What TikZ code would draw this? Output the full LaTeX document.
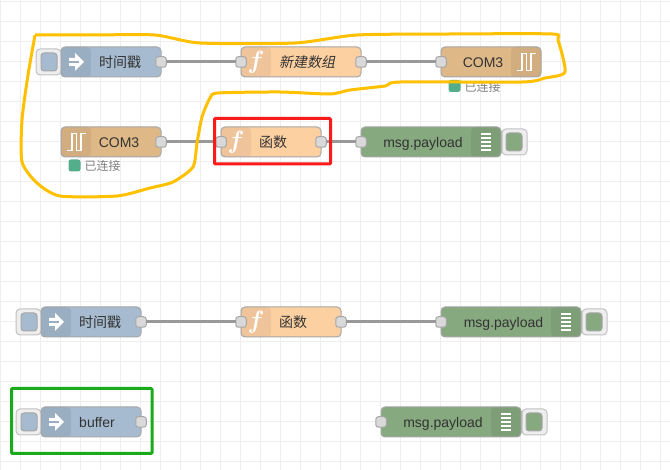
\documentclass[tikz,border=0pt]{standalone}
\usepackage{fontspec}
\setmainfont{Liberation Sans}
\newfontfamily\cjk{Noto Sans CJK SC}
\newfontfamily\cjkit[FakeSlant=0.2]{Noto Sans CJK SC}
\definecolor{gridline}{HTML}{EEEEEE}
\definecolor{edge}{HTML}{A6A6A6}
\definecolor{wire}{HTML}{999999}
\definecolor{portfill}{HTML}{D9D9D9}
\definecolor{inject}{HTML}{A6BBCF}
\definecolor{injecttab}{HTML}{9AAEC1}
\definecolor{func}{HTML}{FDD0A2}
\definecolor{functab}{HTML}{EFC49A}
\definecolor{serial}{HTML}{DEB887}
\definecolor{serialtab}{HTML}{D1AD80}
\definecolor{debug}{HTML}{87A980}
\definecolor{debugtab}{HTML}{7E9E78}
\definecolor{okdot}{HTML}{55AE8B}
\definecolor{scribble}{HTML}{FFC000}
\definecolor{redbox}{HTML}{FA1A1A}
\definecolor{greenbox}{HTML}{1AAB1A}
\tikzset{
  body/.style={draw=edge,line width=1pt,rounded corners=4pt,inner sep=0pt,outer sep=0pt,
    minimum height=30pt},
  tableft/.style={path picture={\fill[#1] (path picture bounding box.north west)
    rectangle ([xshift=30pt]path picture bounding box.south west);}},
  tabright/.style={path picture={\fill[#1] (path picture bounding box.north east)
    rectangle ([xshift=-30pt]path picture bounding box.south east);}},
  portbox/.style={draw=edge,fill=portfill,line width=1pt,rounded corners=2.5pt,inner sep=0pt,
    outer sep=0pt,minimum size=10.5pt},
  btnback/.style={draw=edge!70,fill=gridline,line width=1pt,rounded corners=4pt,inner sep=0pt,
    outer sep=0pt,minimum width=25pt,minimum height=26pt},
  btnface/.style={draw=edge,fill=#1,line width=1pt,rounded corners=3pt,inner sep=0pt,
    outer sep=0pt,minimum width=16pt,minimum height=18pt},
  lbl/.style={inner sep=0pt,text=black!80,text height=14pt,text depth=3pt,
    font=\fontsize{14}{14}\selectfont},
  statustext/.style={inner sep=0pt,text=black!50,font=\cjk\fontsize{12}{12}\selectfont},
  okmark/.style={fill=okdot,rounded corners=2.5pt,inner sep=0pt,minimum size=12pt},
  fmark/.style={inner sep=0pt,text=white,font=\fontsize{27}{27}\selectfont\boldmath},
  link/.style={draw=wire,line width=3pt},
  notebox/.style={line width=3pt,rounded corners=1pt},
  pics/arrowicon/.style={code={
    \fill[white] (-7,-4) -- (-1,-4) -- (-1,-9) -- (8,0) -- (-1,9) -- (-1,4) -- (-7,4) -- cycle;
    \draw[injecttab,line width=1.4pt] (-7,0) -- (3,0);}},
  pics/waveicon/.style={code={
    \draw[white,line width=1.8pt] (-9,8.5) -- (-4,8.5) -- (-4,-8.5) -- (0.5,-8.5) -- (0.5,8.5)
      -- (5,8.5) -- (5,-8.5) -- (9.5,-8.5);}},
  pics/listicon/.style={code={
    \foreach \ly in {-8,-4,0,4,8}
      \draw[white,line width=1.4pt] (-5,\ly) -- (5,\ly);}},
}
\begin{document}
\begin{tikzpicture}[x=1pt,y=-1pt]
  \useasboundingbox (0,0) rectangle (670,470);
  \fill[white] (0,0) rectangle (670,470);
  % grid
  \foreach \gx in {0,20,...,660}
    \draw[gridline,line width=1pt] (\gx+0.5,0) -- (\gx+0.5,470);
  \foreach \gy in {0,20,...,460}
    \draw[gridline,line width=1pt] (0,\gy+1.5) -- (670,\gy+1.5);

  % row 1
  \node[btnback] (timeAbtn) at (48.5,62) {};
  \node[btnface=inject] (timeAface) at (49,62) {};
  \node[body,fill=inject,tableft=injecttab,minimum width=100pt] (timeA) at (111,62) {};
  \pic at (76,62) {arrowicon};
  \node[lbl,font=\cjk\fontsize{14}{14}\selectfont] (timeAtxt) at (120,62) {时间戳};
  \node[portbox] (timeAout) at (161,62) {};
  \node[body,fill=func,tableft=functab,minimum width=120pt] (newarr) at (301,62) {};
  \node[fmark] (newarrf) at (256,62) {$f$};
  \node[lbl,font=\cjkit\fontsize{14}{14}\selectfont] (newarrtxt) at (307,62) {新建数组};
  \node[portbox] (newarrin) at (241,62) {};
  \node[portbox] (newarrout) at (361,62) {};
  \node[body,fill=serial,tabright=serialtab,minimum width=100pt] (comout) at (491,62) {};
  \pic at (526,62) {waveicon};
  \node[lbl] (comouttxt) at (483,62) {COM3};
  \node[portbox] (comoutin) at (441,62) {};
  \node[okmark] (comoutok) at (454.5,86) {};
  \node[statustext] (comoutst) at (482.5,86.5) {已连接};
  \draw[link] (timeAout) -- (newarrin);
  \draw[link] (newarrout) -- (comoutin);

  % row 2
  \node[body,fill=serial,tableft=serialtab,minimum width=100pt] (comin) at (111,142) {};
  \pic at (76,142) {waveicon};
  \node[lbl] (comintxt) at (119,142) {COM3};
  \node[portbox] (cominout) at (161,142) {};
  \node[okmark] (cominok) at (74.5,165.5) {};
  \node[statustext] (cominst) at (102.5,166) {已连接};
  \node[body,fill=func,tableft=functab,minimum width=100pt] (funcA) at (271,142) {};
  \node[fmark] (funcAf) at (236,142) {$f$};
  \node[lbl,font=\cjk\fontsize{14}{14}\selectfont] (funcAtxt) at (273,142) {函数};
  \node[portbox] (funcAin) at (221,142) {};
  \node[portbox] (funcAout) at (321,142) {};
  \node[btnback] (debugAbtn) at (514.5,142) {};
  \node[btnface=debug] (debugAface) at (514,142) {};
  \node[body,fill=debug,tabright=debugtab,minimum width=140pt] (debugA) at (431,142) {};
  \pic at (486,142) {listicon};
  \node[lbl] (debugAtxt) at (423,142) {msg.payload};
  \node[portbox] (debugAin) at (361,142) {};
  \draw[link] (cominout) -- (funcAin);
  \draw[link] (funcAout) -- (debugAin);

  % row 3
  \node[btnback] (timeBbtn) at (28.5,322) {};
  \node[btnface=inject] (timeBface) at (29,322) {};
  \node[body,fill=inject,tableft=injecttab,minimum width=100pt] (timeB) at (91,322) {};
  \pic at (56,322) {arrowicon};
  \node[lbl,font=\cjk\fontsize{14}{14}\selectfont] (timeBtxt) at (100,322) {时间戳};
  \node[portbox] (timeBout) at (141,322) {};
  \node[body,fill=func,tableft=functab,minimum width=100pt] (funcB) at (291,322) {};
  \node[fmark] (funcBf) at (256,322) {$f$};
  \node[lbl,font=\cjk\fontsize{14}{14}\selectfont] (funcBtxt) at (293,322) {函数};
  \node[portbox] (funcBin) at (241,322) {};
  \node[portbox] (funcBout) at (341,322) {};
  \node[btnback] (debugBbtn) at (594.5,322) {};
  \node[btnface=debug] (debugBface) at (594,322) {};
  \node[body,fill=debug,tabright=debugtab,minimum width=140pt] (debugB) at (511,322) {};
  \pic at (566,322) {listicon};
  \node[lbl] (debugBtxt) at (503.5,322) {msg.payload};
  \node[portbox] (debugBin) at (441,322) {};
  \draw[link] (timeBout) -- (funcBin);
  \draw[link] (funcBout) -- (debugBin);

  % row 4
  \node[btnback] (bufbtn) at (28.5,422) {};
  \node[btnface=inject] (bufface) at (29,422) {};
  \node[body,fill=inject,tableft=injecttab,minimum width=100pt] (buf) at (91,422) {};
  \pic at (56,422) {arrowicon};
  \node[lbl] (buftxt) at (97,422) {buffer};
  \node[portbox] (bufout) at (141,422) {};
  \node[btnback] (debugCbtn) at (534.5,422) {};
  \node[btnface=debug] (debugCface) at (534,422) {};
  \node[body,fill=debug,tabright=debugtab,minimum width=140pt] (debugC) at (451,422) {};
  \pic at (506,422) {listicon};
  \node[lbl] (debugCtxt) at (443,422) {msg.payload};
  \node[portbox] (debugCin) at (381,422) {};

  % hand marks
  \draw[notebox,redbox] (214.5,118.5) rectangle (330.5,164);
  \draw[notebox,greenbox] (11.5,388.5) rectangle (152,453.5);
  \draw[scribble,line width=3pt,line join=round]
    plot[smooth,tension=0.4] coordinates {(35,35) (90,35) (155,35) (200,43) (295,43)
      (357,35) (450,34) (552,34) (558,40) (565,72) (545,78) (522,82) (400,82) (385,86)
      (350,90) (330,94) (280,92) (218,93) (210,98) (202,117) (197,143) (193,167) (173,182)
      (150,188) (117,196) (60,196) (37,183) (22,162) (22,120) (28,75) (35,35)};
\end{tikzpicture}
\end{document}
